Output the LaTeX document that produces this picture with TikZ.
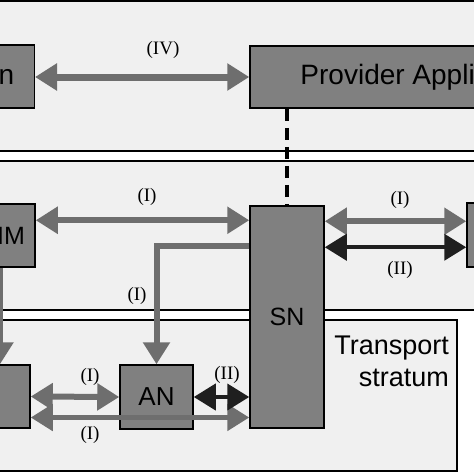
\documentclass[tikz,border=0pt]{standalone}
\usepackage{fontspec}
\setmainfont{Liberation Sans}
\newfontfamily\labfont{Liberation Serif}
\usetikzlibrary{arrows.meta,calc}

\begin{document}
\begin{tikzpicture}[x=1pt,y=-1pt,
  box/.style={draw=black, line width=1.5pt, fill=black!50, inner sep=0pt,
    font=\fontsize{28}{32}\selectfont},
  band/.style={draw=black, line width=1.5pt, fill=black!6},
  tip/.tip={Triangle[length=22pt,width=26pt]},
  garrow/.style={draw=black!57, line width=6pt, tip-tip},
  karrow/.style={draw=black!88, line width=4pt, tip-tip},
  lab/.style={inner sep=0pt, font=\labfont\fontsize{19}{22}\selectfont}]

\useasboundingbox (0,0) rectangle (474,474);
\clip (0,0) rectangle (474,474);

% strata
\draw[band] (-10,1) rectangle (490,151);
\draw[band] (-10,161) rectangle (490,310);
\draw[band] (-10,320) rectangle (457,471);

\node[anchor=east, align=right, inner sep=0pt, font=\fontsize{27}{32}\selectfont]
  (tlab) at (449,361) {Transport\\stratum};

% boxes
\node[box, anchor=east, minimum height=63pt, text width=80pt, align=right,
  inner xsep=20pt] (app) at (35,76.5) {n};
\node[box, minimum width=350pt, minimum height=62pt] (prov) at (425,77)
  {Provider Application};
\node[box, minimum height=63pt, text width=50pt, align=right,
  inner xsep=10pt, font=\fontsize{25}{30}\selectfont] (im) at (0,235.5) {IM};
\node[box, minimum width=73pt, minimum height=64pt] (rb) at (503.5,235) {};
\node[box, minimum width=74pt, minimum height=222pt,
  font=\fontsize{25}{30}\selectfont] (sn) at (287,317) {SN};
\node[box, minimum width=60pt, minimum height=63pt] (te) at (0,396.5) {};
\node[box, minimum width=73pt, minimum height=64pt,
  font=\fontsize{26}{30}\selectfont] (an) at (156.5,397) {AN};

% links
\draw[black, line width=4pt, dash pattern=on 12pt off 7pt] (sn.north |- prov.south) -- (sn.north);
\draw[garrow, line width=7pt] (app.east |- prov.west) -- (prov.west);
\draw[garrow] ([yshift=-17pt]im.north east) -- ([yshift=-17pt]im.north east -| sn.west);
\draw[garrow] ([yshift=-19pt]rb.north west -| sn.east) -- ([yshift=-19pt]rb.north west);
\draw[karrow] ([yshift=-45pt]rb.north west -| sn.east) -- ([yshift=-45pt]rb.north west);
\draw[garrow, -tip] ([yshift=-41pt]sn.north west) -| (an.north);
\draw[garrow, -tip] (im.south) -- (te.north);
\draw[garrow] (te.east) -- (an.west);
\draw[garrow, line width=5pt] ([yshift=-21pt]te.east) -- ([yshift=-21pt]te.east -| sn.west);
\draw[karrow] (an.east) -- (an.east -| sn.west);

% labels
\node[lab] (l4) at (163,50) {(IV)};
\node[lab] (l1a) at (147,197) {(I)};
\node[lab] (l1b) at (400,200) {(I)};
\node[lab] (l2a) at (400,270) {(II)};
\node[lab] (l1c) at (137,296) {(I)};
\node[lab] (l1d) at (90,377) {(I)};
\node[lab] (l1e) at (90,435) {(I)};
\node[lab] (l2b) at (227,375) {(II)};

\end{tikzpicture}
\end{document}
